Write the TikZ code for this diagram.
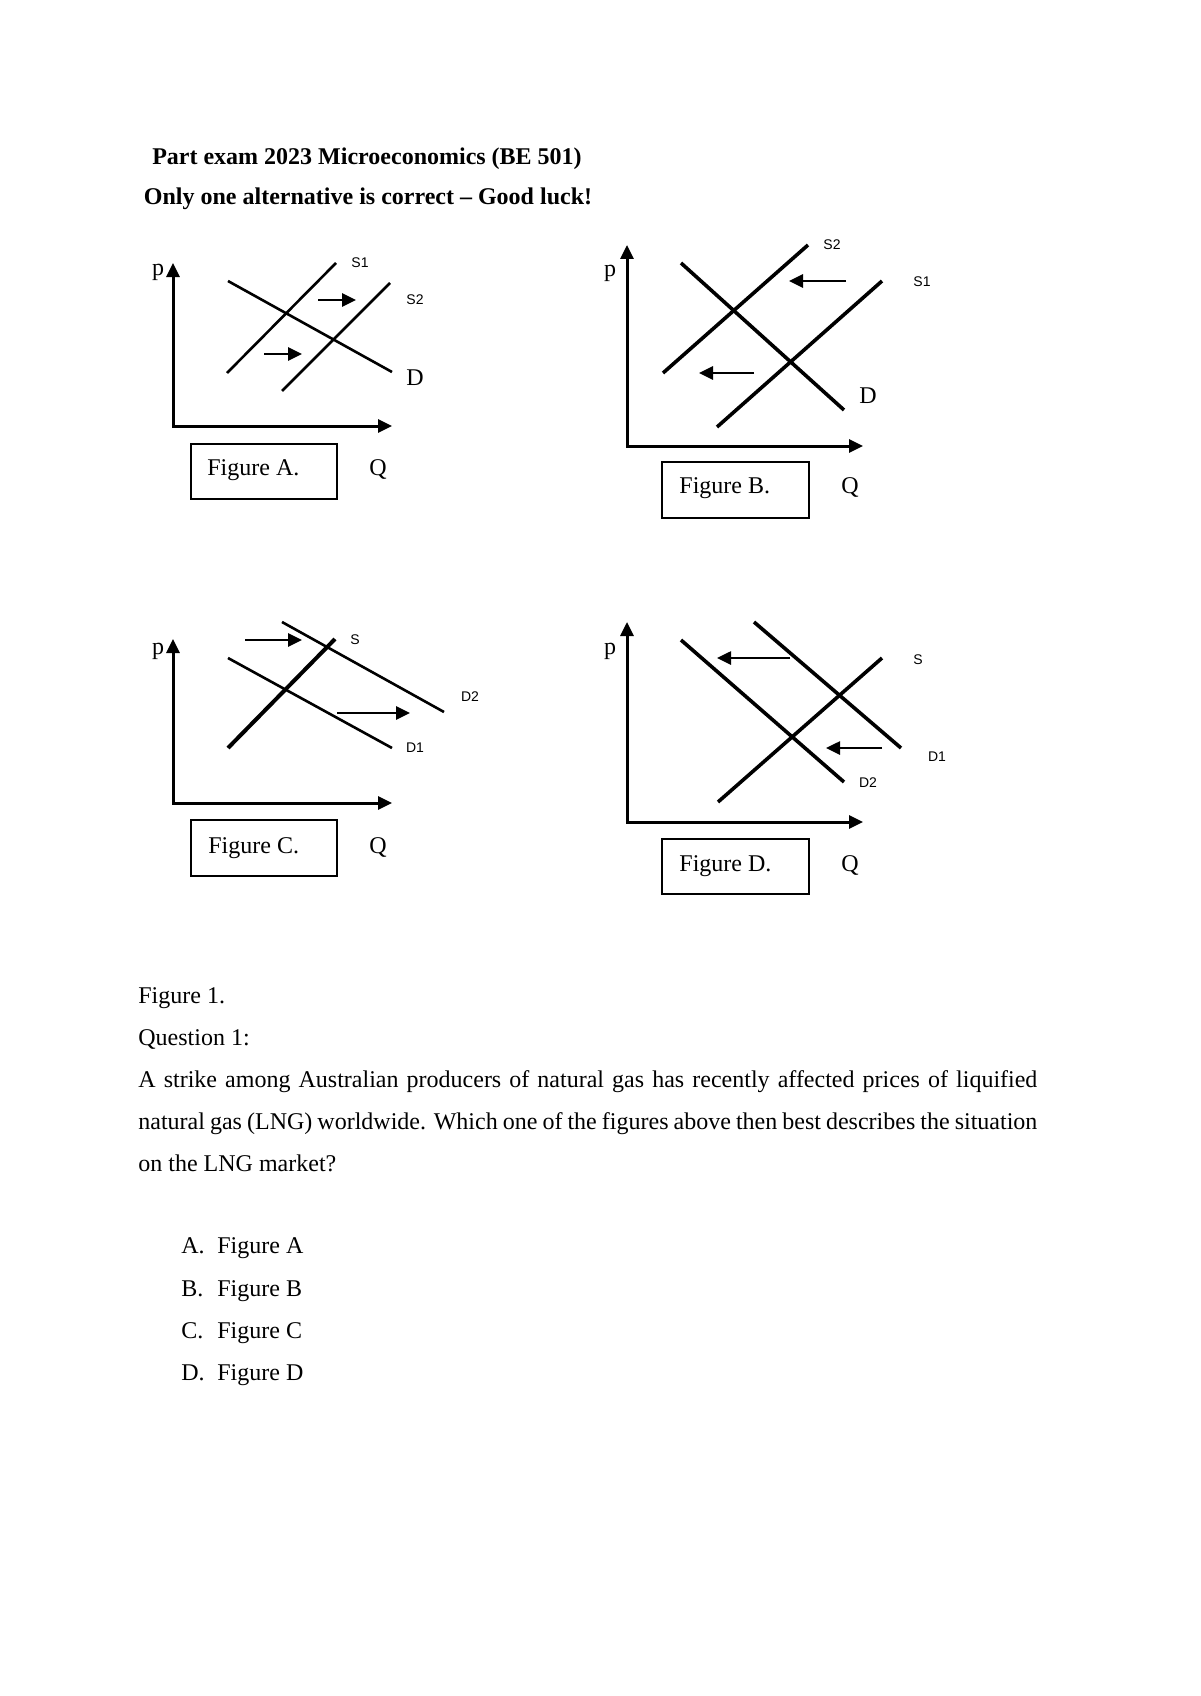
\documentclass[tikz,border=0pt]{standalone}
\usepackage{fontspec}
\setmainfont{Liberation Serif}
\newfontfamily\smallsans{Liberation Sans}
\usetikzlibrary{arrows.meta}
\begin{document}
\begin{tikzpicture}[x=0.5pt,y=-0.5pt,
  axis/.style={line width=1.5pt, {Triangle[length=7pt,width=6.5pt]}-{Triangle[length=7pt,width=6.5pt]}},
  curve/.style={line width=1.3pt},
  thickcurve/.style={line width=1.8pt},
  shiftarrow/.style={line width=1.3pt, -{Triangle[length=7pt,width=6.5pt]}},
  boxline/.style={line width=1.2pt},
  serif/.style={inner sep=0pt, anchor=base, font=\fontsize{12}{14}\selectfont},
  txt/.style={inner sep=0pt, anchor=base west, font=\fontsize{12}{14}\selectfont},
  small/.style={inner sep=0pt, font=\smallsans\fontsize{7}{8}\selectfont}]
\fill[white] (0,0) rectangle (1200,1696);
\useasboundingbox (0,0) rectangle (1200,1696);

% Title
\node[inner sep=0pt, anchor=base, font=\bfseries\fontsize{12}{14}\selectfont] (title1) at (367,165) {Part exam 2023 Microeconomics (BE 501)};
\node[inner sep=0pt, anchor=base, font=\bfseries\fontsize{12}{14}\selectfont] (title2) at (368,205) {Only one alternative is correct – Good luck!};

% ---------- Figure A ----------
\draw[axis] (173,263) -- (173,426) -- (392,426);
\draw[curve] (227,373) -- (336,263);
\draw[curve] (282,391) -- (390,283);
\draw[curve] (228,281) -- (392,372);
\draw[shiftarrow] (318,300) -- (356,300);
\draw[shiftarrow] (264,354) -- (302,354);
\node[serif] (pA) at (158,275) {p};
\node[small] (s1A) at (360,263) {S1};
\node[small] (s2A) at (415,300) {S2};
\node[serif] (dA) at (415,385) {D};
\draw[boxline] (191,444) rectangle (337,499);
\node[txt] (figA) at (207,475) {Figure A.};
\node[serif] (qA) at (378,475) {Q};

% ---------- Figure B ----------
\draw[axis] (627,245) -- (627,446) -- (863,446);
\draw[thickcurve] (663,373) -- (808,245);
\draw[thickcurve] (717,427) -- (882,281);
\draw[thickcurve] (681,263) -- (844,410);
\draw[shiftarrow] (846,281) -- (789,281);
\draw[shiftarrow] (754,373) -- (699,373);
\node[serif] (pB) at (610,277) {p};
\node[small] (s2B) at (832,245) {S2};
\node[small] (s1B) at (922,282) {S1};
\node[serif] (dB) at (868,403) {D};
\draw[boxline] (662,462) rectangle (809,518);
\node[txt] (figB) at (679,493) {Figure B.};
\node[serif] (qB) at (850,493) {Q};

% ---------- Figure C ----------
\draw[axis] (173,639) -- (173,803) -- (392,803);
\draw[line width=2pt] (228,748) -- (335,639);
\draw[curve] (228,658) -- (392,748);
\draw[curve] (282,622) -- (444,712);
\draw[shiftarrow] (245,640) -- (302,640);
\draw[shiftarrow] (337,713) -- (410,713);
\node[serif] (pC) at (158,654) {p};
\node[small] (sC) at (355,640) {S};
\node[small] (d2C) at (470,697) {D2};
\node[small] (d1C) at (415,748) {D1};
\draw[boxline] (191,820) rectangle (337,876);
\node[txt] (figC) at (208,853) {Figure C.};
\node[serif] (qC) at (378,853) {Q};

% ---------- Figure D ----------
\draw[axis] (627,622) -- (627,822) -- (863,822);
\draw[thickcurve] (718,802) -- (882,658);
\draw[thickcurve] (754,622) -- (901,748);
\draw[thickcurve] (681,640) -- (844,782);
\draw[shiftarrow] (790,658) -- (717,658);
\draw[shiftarrow] (882,748) -- (826,748);
\node[serif] (pD) at (610,654) {p};
\node[small] (sD) at (918,660) {S};
\node[small] (d1D) at (937,757) {D1};
\node[small] (d2D) at (868,783) {D2};
\draw[boxline] (662,839) rectangle (809,894);
\node[txt] (figD) at (679,871) {Figure D.};
\node[serif] (qD) at (850,871) {Q};

% ---------- Question text ----------
\node[txt] (fig1) at (138,1003) {Figure 1.};
\node[txt] (q1) at (138,1045) {Question 1:};
\node[txt] (l1) at (138,1087) {\makebox[449.5pt][s]{A strike among Australian producers of natural gas has recently affected prices of liquified}};
\node[txt] (l2) at (138,1129) {\makebox[449.5pt][s]{natural gas (LNG) worldwide. Which one of the figures above then best describes the situation}};
\node[txt] (l3) at (138,1171) {on the LNG market?};

\node[txt] (optA) at (181,1253) {\makebox[18pt][l]{A.}Figure A};
\node[txt] (optB) at (181,1296) {\makebox[18pt][l]{B.}Figure B};
\node[txt] (optC) at (181,1338) {\makebox[18pt][l]{C.}Figure C};
\node[txt] (optD) at (181,1380) {\makebox[18pt][l]{D.}Figure D};
\end{tikzpicture}
\end{document}
